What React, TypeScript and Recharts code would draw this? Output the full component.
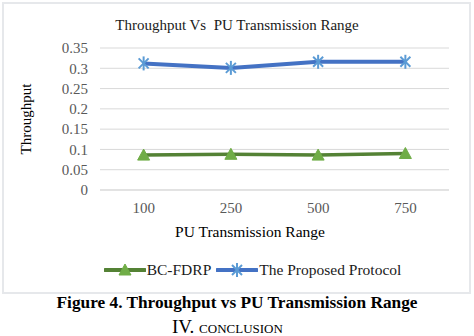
import { CartesianGrid, Line, LineChart, XAxis, YAxis } from "recharts";

const ranges = ["100", "250", "500", "750"];
const bcFdrp = [0.086, 0.088, 0.086, 0.09];
const proposed = [0.312, 0.301, 0.316, 0.316];
const yTicks = [0, 0.05, 0.1, 0.15, 0.2, 0.25, 0.3, 0.35];
const boundaryTicks = [0, 1, 2, 3, 4];

const seriesNames = ["BC-FDRP", "The Proposed Protocol"];

const data = ranges.map((range, i) => ({
  range,
  bc: bcFdrp[i],
  proposed: proposed[i]
}));

const font = "'Liberation Serif', serif";
const tickStyle = { fontSize: 15, fill: "#595959" };

function Triangle({ cx, cy }: { cx?: number; cy?: number }) {
  if (cx == null || cy == null) return null;
  return <path d={`M${cx - 6},${cy + 5} L${cx + 6},${cy + 5} L${cx},${cy - 6} Z`} fill="#70ad47" stroke="#70ad47" strokeWidth={1} />;
}

function Asterisk({ cx, cy }: { cx?: number; cy?: number }) {
  if (cx == null || cy == null) return null;
  return (
    <g stroke="#5b9bd5" strokeWidth={2}>
      <line x1={cx - 5} y1={cy - 5} x2={cx + 5} y2={cy + 5} />
      <line x1={cx - 5} y1={cy + 5} x2={cx + 5} y2={cy - 5} />
      <line x1={cx} y1={cy - 7} x2={cx} y2={cy + 7} />
    </g>
  );
}

function YLabel() {
  return (
    <text x={26} y={119} transform="rotate(-90 26 119)" textAnchor="middle" dominantBaseline="central" fontSize={15} fill="#000">
      Throughput
    </text>
  );
}

function XLabel() {
  return (
    <text x={250} y={237} textAnchor="middle" fontSize={15.5} fill="#000">
      PU Transmission Range
    </text>
  );
}

function LegendItem({ name, color, marker }: { name: string; color: string; marker: "tri" | "star" }) {
  return (
    <span style={{ display: "inline-flex", alignItems: "center", marginRight: 5 }}>
      <svg width={42} height={14}>
        <line x1={1} y1={7} x2={41} y2={7} stroke={color} strokeWidth={4} strokeLinecap="round" />
        {marker === "tri" ? <Triangle cx={21} cy={7} /> : <Asterisk cx={21} cy={7} />}
      </svg>
      <span style={{ marginLeft: 1 }}>{name}</span>
    </span>
  );
}

export default function App() {
  return (
    <div style={{ position: "fixed", left: 0, top: 0, width: 474, height: 336, background: "#fff", fontFamily: font, overflow: "hidden" }}>
      <style>{`#root, #root * { font-family: 'Liberation Serif', serif !important; }`}</style>
      <div style={{ position: "absolute", left: 2, top: 2, width: 465, height: 288, border: "2px solid #e6e8eb" }} />
      <div style={{ position: "absolute", left: 0, top: 17, width: 474, textAlign: "center", fontSize: 15, color: "#1a1a1a" }}>
        Throughput Vs&nbsp; PU Transmission Range
      </div>
      <div style={{ position: "absolute", left: 0, top: 0 }}>
        <LineChart width={474} height={295} data={data} margin={{ top: 48, right: 25, left: 0, bottom: 45 }}>
          <CartesianGrid stroke="#d9d9d9" vertical={false} />
          <XAxis xAxisId="b" type="number" domain={[0, 4]} ticks={boundaryTicks} tick={false} height={0} axisLine={false} tickLine={{ stroke: "#d9d9d9" }} tickSize={5} />
          <XAxis
            dataKey="range"
            scale="band"
            height={60}
            tick={tickStyle}
            tickLine={false}
            axisLine={{ stroke: "#d9d9d9" }}
            tickMargin={6}
            interval={0}
            label={<XLabel />}
          />
          <YAxis
            width={100}
            domain={[0, 0.35]}
            ticks={yTicks}
            interval={0}
            tick={tickStyle}
            tickLine={false}
            axisLine={false}
            tickMargin={6}
            label={<YLabel />}
          />
          <Line dataKey="bc" name={seriesNames[0]} stroke="#548235" strokeWidth={3.5} dot={<Triangle />} isAnimationActive={false} />
          <Line dataKey="proposed" name={seriesNames[1]} stroke="#4472c4" strokeWidth={4} dot={<Asterisk />} isAnimationActive={false} />
        </LineChart>
      </div>
      <div style={{ position: "absolute", left: 0, top: 261, width: 474, fontSize: 15.5, color: "#1a1a1a", display: "flex", justifyContent: "center", marginLeft: 18 }}>
        <LegendItem name={seriesNames[0]} color="#548235" marker="tri" />
        <LegendItem name={seriesNames[1]} color="#4472c4" marker="star" />
      </div>
      <div style={{ position: "absolute", left: 0, top: 293, width: 474, textAlign: "center", fontSize: 17.3, fontWeight: "bold", color: "#000" }}>
        Figure 4. Throughput vs PU Transmission Range
      </div>
      <div style={{ position: "absolute", left: 172, top: 318, fontSize: 19, lineHeight: "18px", color: "#000", whiteSpace: "nowrap" }}>
        IV. <span style={{ fontSize: 13 }}>CONCLUSION</span>
      </div>
    </div>
  );
}
